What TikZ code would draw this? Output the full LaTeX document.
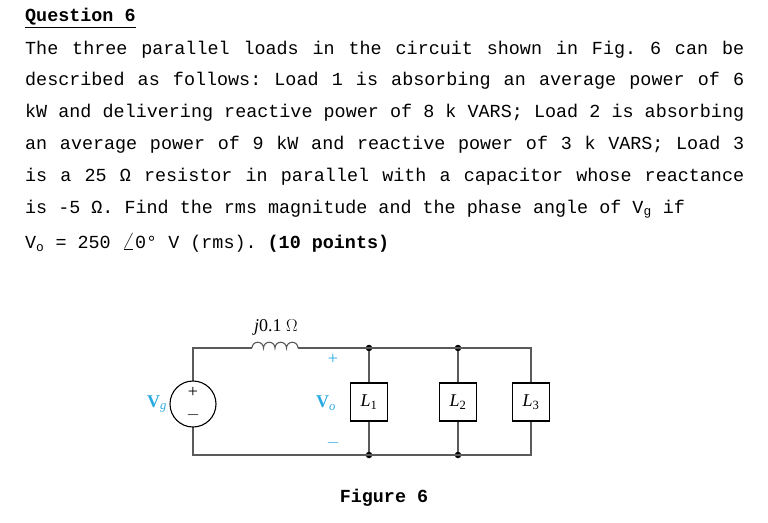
\documentclass[tikz,border=0pt]{standalone}
\usepackage{fontspec}
\setmainfont{Liberation Serif}
\newfontfamily\mono{Liberation Mono}
\definecolor{cy}{RGB}{41,170,226}
\definecolor{wire}{RGB}{90,90,90}
\newcommand{\jline}[1]{\makebox[719pt][s]{#1}}
\begin{document}
\frenchspacing
\begin{tikzpicture}[x=1pt,y=-1pt,
  txt/.style={anchor=west,inner sep=0,font=\mono\fontsize{18.4}{22}\selectfont\frenchspacing},
  w/.style={draw=wire,line width=1.1pt},
  dot/.style={circle,fill=black,inner sep=0,minimum size=6.5pt},
  load/.style={draw=black,line width=1.1pt,fill=white,minimum width=37pt,minimum height=38pt,inner sep=0,font=\fontsize{18}{20}\selectfont\itshape},
  lab/.style={inner sep=0,font=\fontsize{18}{20}\selectfont}]
\useasboundingbox (0,0) rectangle (768,522);
\node[txt] (t0) at (25,18) {\textbf{\underline{Question 6}}};
\node[txt] (t1) at (25,50) {\jline{The three parallel loads in the circuit shown in Fig. 6 can be}};
\node[txt] (t2) at (25,81) {\jline{described as follows: Load 1 is absorbing an average power of 6}};
\node[txt] (t3) at (25,113) {\jline{kW and delivering reactive power of 8 k VARS; Load 2 is absorbing}};
\node[txt] (t4) at (25,145) {\jline{an average power of 9 kW and reactive power of 3 k VARS; Load 3}};
\node[txt] (t5) at (25,177) {\jline{is a 25 Ω resistor in parallel with a capacitor whose reactance}};
\node[txt] (t6) at (25,209) {is -5 Ω. Find the rms magnitude and the phase angle of V\textsubscript{g} if};
\node[txt] (t7) at (25,243) {V\textsubscript{o} = 250 {\fontsize{24}{24}\selectfont$\angle$}0° V (rms). \textbf{(10 points)}};
\node[txt,anchor=center] (cap) at (384,498) {\textbf{Figure 6}};
% circuit
\coordinate (tl) at (193,348); \coordinate (bl) at (193,455);
\coordinate (i1) at (252,348); \coordinate (i2) at (298,348);
\coordinate (tr) at (531,348); \coordinate (br) at (531,455);
\node[dot] (n1) at (369,348) {}; \node[dot] (n2) at (458,348) {};
\node[dot] (m1) at (369,455) {}; \node[dot] (m2) at (458,455) {};
\draw[w] (i1) -- (tl) -- (bl) -- (br) -- (tr) -- (i2);
\draw[w] (i1) arc(-180:0:5.75) arc(-180:0:5.75) arc(-180:0:5.75) arc(-180:0:5.75);
\draw[w] (n1) -- (m1) (n2) -- (m2);
\node[circle,draw=black,line width=1.1pt,fill=white,minimum size=46pt,inner sep=0] (vs) at (193,404) {};
\node[lab] (sp) at (193,392) {+};
\node[lab] (sm) at (193,415) {$-$};
\node[load] (L1) at (369,402) {L\textsubscript{\upshape 1}};
\node[load] (L2) at (458,402) {L\textsubscript{\upshape 2}};
\node[load] (L3) at (531,402) {L\textsubscript{\upshape 3}};
\node[lab] (ind) at (276,327) {\textit{j}0.1 $\Omega$};
\node[lab,text=cy] (vp) at (333,359) {+};
\node[lab,text=cy] (vm) at (333,443) {$-$};
\node[lab,text=cy] (vo) at (326,403) {\textbf{V}\textsubscript{\itshape o}};
\node[lab,text=cy] (vg) at (157,404) {\textbf{V}\textsubscript{\itshape g}};
\end{tikzpicture}
\end{document}
